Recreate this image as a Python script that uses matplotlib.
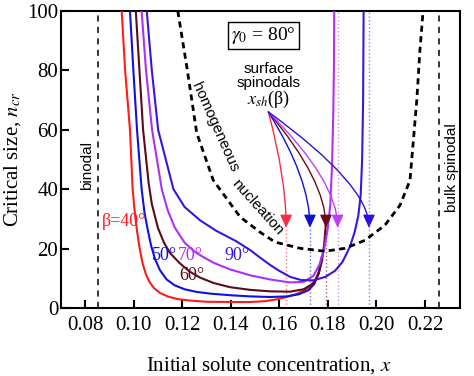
import matplotlib
matplotlib.use("Agg")
import matplotlib.pyplot as plt

plt.rcParams['font.family'] = ['Liberation Serif', 'DejaVu Serif']
plt.rcParams['mathtext.fontset'] = 'stix'

# heterogeneous critical size curves, one per contact angle beta
beta_labels = ['β=40°', '50°', '60°', '70°', '90°']
beta_colors = ['#ff1a1a', '#1010e0', '#5c0a18', '#b030f0', '#3a14e0']

x40 = [0.0951, 0.0965, 0.0977, 0.0985, 0.0996, 0.1005, 0.1014, 0.1025, 0.1037, 0.1050,
       0.1065, 0.1085, 0.1110, 0.1140, 0.1180, 0.1232, 0.1300, 0.1397, 0.1480, 0.1540,
       0.1590, 0.1630, 0.1670, 0.1705, 0.1730, 0.1750, 0.1765]
n40 = [100, 80, 68, 60, 40, 32, 26, 20, 15, 11.5,
       8.8, 6.6, 5.0, 3.9, 3.0, 2.5, 2.1, 2.0, 2.0, 2.3,
       2.9, 3.7, 4.7, 6.0, 7.5, 9.5, 12.5]

x50 = [0.0985, 0.0999, 0.1014, 0.1033, 0.1045, 0.1059, 0.1072, 0.1088, 0.1108, 0.1136,
       0.1170, 0.1210, 0.1260, 0.1320, 0.1397, 0.1480, 0.1562, 0.1630, 0.1680, 0.1720,
       0.1745, 0.1762, 0.1774]
n50 = [100, 80, 60, 40, 32, 26, 21, 16.5, 12.8, 9.6,
       7.6, 6.3, 5.4, 4.8, 4.3, 3.9, 3.7, 3.9, 4.6, 6.0,
       8.2, 12, 17]

x60 = [0.1009, 0.1024, 0.1039, 0.1062, 0.1075, 0.1100, 0.1125, 0.1150, 0.1191, 0.1230,
       0.1274, 0.1330, 0.1397, 0.1480, 0.1562, 0.1644, 0.1700, 0.1740, 0.1762, 0.1776,
       0.1786, 0.1792]
n60 = [100, 80, 60, 42, 35, 27, 22, 18.5, 15, 12.3,
       10.2, 8.4, 7.0, 6.1, 5.6, 5.5, 6.3, 8.3, 11.5, 16,
       22.5, 28.9]

x70 = [0.1033, 0.1051, 0.1076, 0.1116, 0.1140, 0.1170, 0.1210, 0.1250, 0.1286, 0.1330,
       0.1397, 0.1480, 0.1562, 0.1644, 0.1700, 0.1740, 0.1765, 0.1785, 0.1800, 0.1810,
       0.1817, 0.1822, 0.1825, 0.1826]
n70 = [100, 80, 60, 40, 33, 27, 22, 19, 17.2, 15.2,
       13.0, 11.0, 9.6, 8.6, 8.8, 10.8, 14.5, 20, 27, 35,
       48, 65, 82, 100]

x90 = [0.1054, 0.1075, 0.1101, 0.1164, 0.1210, 0.1274, 0.1340, 0.1422, 0.1480, 0.1520,
       0.1562, 0.1600, 0.1644, 0.1690, 0.1740, 0.1790, 0.1829, 0.1860, 0.1890, 0.1910,
       0.1925, 0.1935, 0.1941, 0.1945, 0.1947]
n90 = [100, 80, 60, 40, 34, 29.5, 26, 22.5, 19.5, 17,
       14.5, 12.5, 10.5, 9.4, 9.3, 10.5, 12.5, 15.5, 20.5, 25.5,
       31, 38, 50, 70, 100]

# homogeneous nucleation
x_hom = [0.1182, 0.1219, 0.1260, 0.1328, 0.1438, 0.1521, 0.1582, 0.1685, 0.1788, 0.1871,
         0.1953, 0.2035, 0.2097, 0.2138, 0.2166, 0.2179, 0.2192]
n_hom = [100, 81.2, 58.9, 43.0, 30.7, 25.5, 22.2, 20.1, 19.1, 20.1,
         22.8, 27.9, 34.6, 43, 70, 86.9, 100]

x_binodal = 0.0852
x_bulk_spinodal = 0.2258
x_sh = [0.1628, 0.1726, 0.1792, 0.1840, 0.1969]
arrow_colors = ['#ff2a44', '#1010d0', '#6a0a1a', '#c040f0', '#3010e0']
dot_colors = ['#ff7080', '#6070e0', '#a06070', '#d890f0', '#9080f0']

curves = [(x40, n40), (x50, n50), (x60, n60), (x70, n70), (x90, n90)]

fig = plt.figure(figsize=(4.74, 3.76), dpi=100)
ax = fig.add_axes([0.1287, 0.1809, 0.8418, 0.7898])

for (xs, ns), c in zip(curves, beta_colors):
    ax.plot(xs, ns, color=c, lw=1.5, zorder=3, solid_joinstyle='round')

ax.plot(x_hom, n_hom, color='black', lw=2.0, dashes=(2.2, 1.6), zorder=3)
ax.axvline(x_binodal, color='black', lw=1.1, dashes=(4, 3.5))
ax.axvline(x_bulk_spinodal, color='black', lw=1.1, dashes=(4, 3.5))

# surface spinodals: dotted guides and arrows from the label
tip_n = 27
for i, (xs, c, dc) in enumerate(zip(x_sh, arrow_colors, dot_colors)):
    top = 100 if i >= 3 else tip_n
    ax.plot([xs, xs], [0, top], color=dc, lw=1.0, ls=':', zorder=2)

start = (0.1555, 66.0)
angles = [-75, -58, -50, -45, -36]
for xs, c, a in zip(x_sh, arrow_colors, angles):
    ax.annotate('', xy=(xs, tip_n), xytext=start,
                arrowprops=dict(arrowstyle='-|>,head_length=0.65,head_width=0.3',
                                mutation_scale=12, color=c, lw=1.0,
                                shrinkA=0, shrinkB=0,
                                connectionstyle=f'angle3,angleA={a},angleB=90'),
                zorder=4)

sans = ['Liberation Sans', 'DejaVu Sans']
ax.text(0.1558, 80.4, 'surface', family=sans, fontsize=11, ha='center', va='center')
ax.text(0.1556, 75.9, 'spinodals', family=sans, fontsize=11, ha='center', va='center')
ax.text(0.1554, 70.3, r'$x_{sh}$(β)', fontsize=13, ha='center', va='center')

ax.text(0.5075, 0.9175, r'$\gamma_0$ = 80°', transform=ax.transAxes, fontsize=14,
        ha='center', va='center',
        bbox=dict(boxstyle='square,pad=0.15', fc='white', ec='black', lw=1.0))

ax.text(0.0808, 48.1, 'binodal', family=sans, fontsize=11, rotation=90,
        ha='center', va='center')
ax.text(0.2311, 47.1, 'bulk spinodal', family=sans, fontsize=11, rotation=90,
        ha='center', va='center')
ax.text(0.1335, 61.0, 'homogeneous', family=sans, fontsize=11, rotation=-66,
        ha='center', va='center', rotation_mode='anchor')
ax.text(0.1510, 33.8, 'nucleation', family=sans, fontsize=11, rotation=-48,
        ha='center', va='center', rotation_mode='anchor')

label_pos = [(0.0959, 29.0), (0.1125, 17.8), (0.1239, 11.0), (0.1232, 17.8), (0.1424, 17.8)]
for lab, (lx, ly), c in zip(beta_labels, label_pos, beta_colors):
    ax.text(lx, ly, lab, color=c, fontsize=13, ha='center', va='center')

ax.set_xlim(0.0701, 0.2344)
ax.set_ylim(0, 100)
ax.set_xticks([0.08, 0.10, 0.12, 0.14, 0.16, 0.18, 0.20, 0.22])
ax.set_xticklabels(['0.08', '0.10', '0.12', '0.14', '0.16', '0.18', '0.20', '0.22'])
ax.set_yticks([0, 20, 40, 60, 80, 100])
ax.tick_params(direction='in', length=6, width=1.5, labelsize=15)
ax.tick_params(axis='x', pad=6)
ax.tick_params(axis='y', pad=2)
for s in ax.spines.values():
    s.set_linewidth(1.5)

ax.set_xlabel(r'Initial solute concentration, $x$', fontsize=15, labelpad=13)
ax.xaxis.set_label_coords(0.52, -0.16)
ax.set_ylabel(r'Critical size, $n_{cr}$', fontsize=15, labelpad=3)

fig.savefig('out.png', dpi=100)
